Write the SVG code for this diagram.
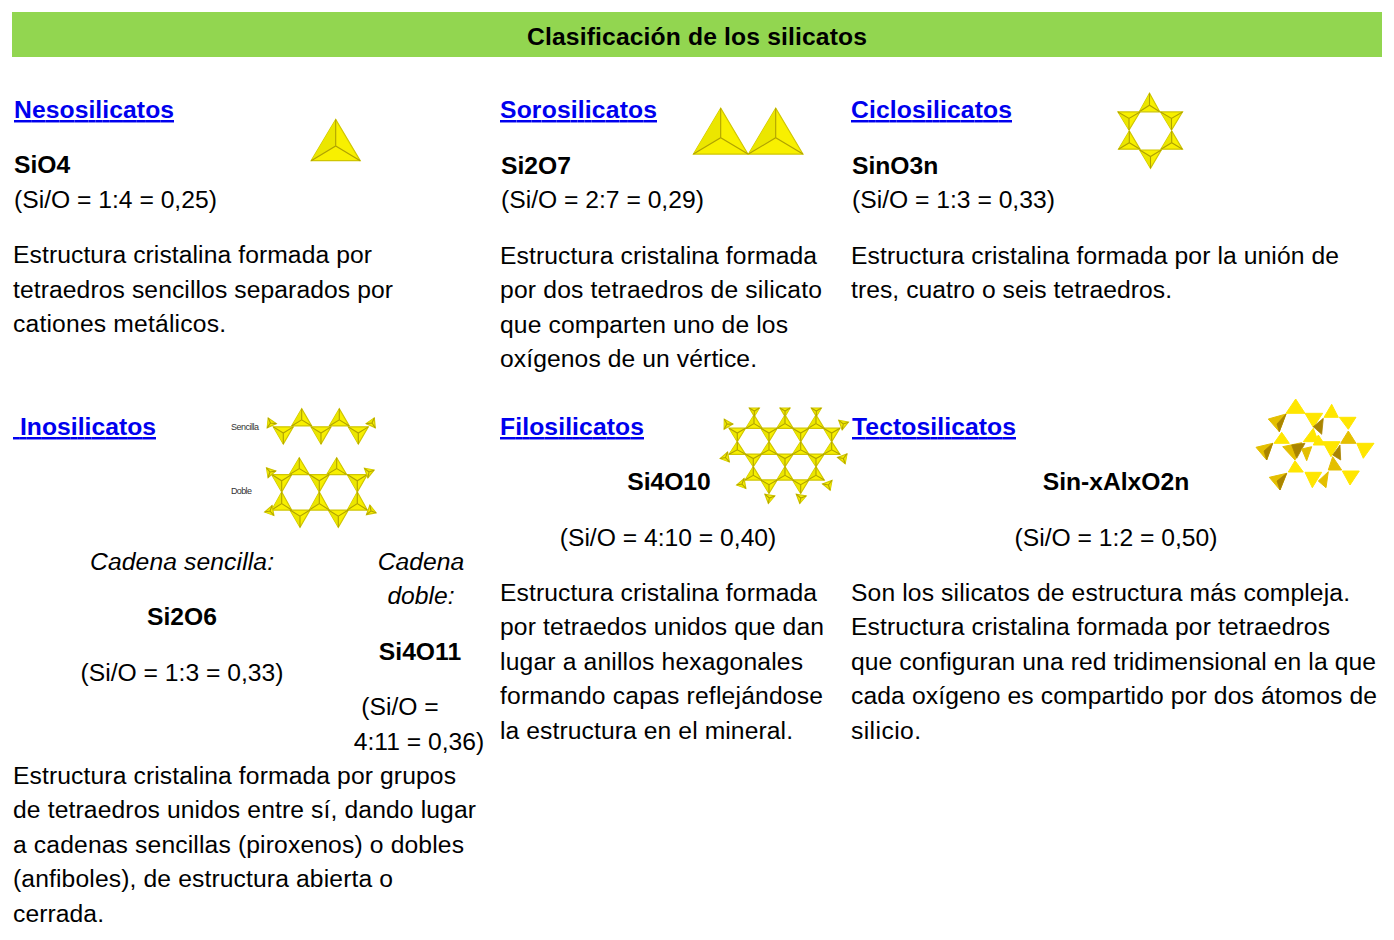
<svg xmlns="http://www.w3.org/2000/svg" xmlns:xlink="http://www.w3.org/1999/xlink" width="1394" height="940" viewBox="0 0 1394 940">
<style>
text{font-family:"Liberation Sans",Arial,sans-serif;font-size:24.67px;fill:#000}
.b{font-weight:700}
.h{font-weight:700;fill:#0000ee;text-decoration:underline}
.c{text-anchor:middle}
.i{font-style:italic}
.s{font-size:9px;fill:#333}
.t polygon,.t path{vector-effect:non-scaling-stroke}
.img{filter:url(#soft)}
.y{fill:#ffe600;stroke:#ffe600;stroke-width:1;stroke-linejoin:round}
.k{fill:#a98400;stroke:#a98400;stroke-width:.8;stroke-linejoin:round}
.m{fill:#e4bf00;stroke:#e4bf00;stroke-width:1;stroke-linejoin:round}
</style>
<defs>
<filter id="soft" x="-5%" y="-5%" width="110%" height="110%"><feGaussianBlur stdDeviation=".3"/></filter>
<g id="u" class="t">
<polygon points="0,-27 -25,15 25,15" fill="#f8f000" stroke="#d0c600" stroke-width="1.2"/>
<polygon points="0,-27 -25,15 0,0" fill="#ebe600"/>
<path d="M0,-27V0M-25,15L0,0L25,15" fill="none" stroke="#b0a200" stroke-width="1.1"/>
</g>
</defs>
<rect width="1394" height="940" fill="#fff"/>
<g id="title">
<rect x="12" y="12" width="1370" height="45" fill="#92d650"/>
<text class="b" x="527" y="45" textLength="340">Clasificación de los silicatos</text>
</g>
<g id="nesosilicatos">
<text class="h" x="14" y="118" textLength="160">Nesosilicatos</text>
<g class="img"><use href="#u" transform="translate(335.7,146) scale(.98)"/></g>
<text class="b" x="14" y="173">SiO4</text>
<text x="14" y="208">(Si/O = 1:4 = 0,25)</text>
<text x="13" y="263" textLength="359">Estructura cristalina formada por</text>
<text x="13" y="298" textLength="380">tetraedros sencillos separados por</text>
<text x="13" y="332" textLength="213">cationes metálicos.</text>
</g>
<g id="sorosilicatos">
<text class="h" x="500" y="118" textLength="157">Sorosilicatos</text>
<g class="img">
<use href="#u" transform="translate(720.7,137.7) scale(1.09)"/>
<use href="#u" transform="translate(775.7,137.7) scale(1.09)"/>
</g>
<text class="b" x="501" y="174">Si2O7</text>
<text x="501" y="208">(Si/O = 2:7 = 0,29)</text>
<text x="500" y="264" textLength="317">Estructura cristalina formada</text>
<text x="500" y="298" textLength="322">por dos tetraedros de silicato</text>
<text x="500" y="333" textLength="288">que comparten uno de los</text>
<text x="500" y="367" textLength="257">oxígenos de un vértice.</text>
</g>
<g id="ciclosilicatos">
<text class="h" x="851" y="118" textLength="161">Ciclosilicatos</text>
<g class="img">
<use href="#u" transform="translate(1149.5,105.2) scale(.41,.44)"/>
<use href="#u" transform="translate(1129,118.4) scale(.44,-.43)"/>
<use href="#u" transform="translate(1171.5,118.4) scale(.44,-.43)"/>
<use href="#u" transform="translate(1129.3,142.7) scale(.43,.435)"/>
<use href="#u" transform="translate(1171.7,142.7) scale(.43,.435)"/>
<use href="#u" transform="translate(1150.5,156.5) scale(.43,-.435)"/>
</g>
<text class="b" x="852" y="174">SinO3n</text>
<text x="852" y="208">(Si/O = 1:3 = 0,33)</text>
<text x="851" y="264" textLength="488">Estructura cristalina formada por la unión de</text>
<text x="851" y="298" textLength="321">tres, cuatro o seis tetraedros.</text>
</g>
<g id="inosilicatos">
<text class="h" x="13" y="435" textLength="143">&#160;Inosilicatos</text>
<text class="s" x="231" y="430" textLength="28">Sencilla</text>
<text class="s" x="231" y="494" textLength="21">Doble</text>
<g class="img">
<use href="#u" transform="translate(301.7,419.8) scale(.4,.41)"/>
<use href="#u" transform="translate(339.3,419.8) scale(.4,.41)"/>
<use href="#u" transform="translate(283.3,433) scale(.4,-.41)"/>
<use href="#u" transform="translate(321,433) scale(.4,-.41)"/>
<use href="#u" transform="translate(358.3,433) scale(.4,-.41)"/>
<use href="#u" transform="translate(270.5,423) rotate(-25) scale(.2)"/>
<use href="#u" transform="translate(372,423) rotate(25) scale(.2)"/>
<use href="#u" transform="translate(299.3,468.6) scale(.4)"/>
<use href="#u" transform="translate(336.7,468.6) scale(.4)"/>
<use href="#u" transform="translate(281.7,480.8) scale(.4,-.415)"/>
<use href="#u" transform="translate(319.3,480.8) scale(.4,-.415)"/>
<use href="#u" transform="translate(357.3,480.8) scale(.4,-.415)"/>
<use href="#u" transform="translate(281.7,503.6) scale(.4,.43)"/>
<use href="#u" transform="translate(319.3,503.6) scale(.4,.43)"/>
<use href="#u" transform="translate(357.3,503.6) scale(.4,.43)"/>
<use href="#u" transform="translate(300,516.2) scale(.4,-.41)"/>
<use href="#u" transform="translate(338.3,516.2) scale(.4,-.41)"/>
<use href="#u" transform="translate(270,472) rotate(-40) scale(.2)"/>
<use href="#u" transform="translate(369,472) rotate(70) scale(.2)"/>
<use href="#u" transform="translate(270,511) rotate(-100) scale(.2)"/>
<use href="#u" transform="translate(371,511) rotate(110) scale(.2)"/>
</g>
<text class="i" x="90" y="570" textLength="184">Cadena sencilla:</text>
<text class="b c" x="182" y="625">Si2O6</text>
<text class="c" x="182" y="681">(Si/O = 1:3 = 0,33)</text>
<text class="i c" x="421" y="570">Cadena</text>
<text class="i c" x="421" y="604">doble:</text>
<text class="b c" x="420" y="660">Si4O11</text>
<text class="c" x="400" y="715">(Si/O =</text>
<text class="c" x="419" y="750">4:11 = 0,36)</text>
<text x="13" y="784" textLength="443">Estructura cristalina formada por grupos</text>
<text x="13" y="818" textLength="463">de tetraedros unidos entre sí, dando lugar</text>
<text x="13" y="853" textLength="451">a cadenas sencillas (piroxenos) o dobles</text>
<text x="13" y="887" textLength="380">(anfiboles), de estructura abierta o</text>
<text x="13" y="922" textLength="91">cerrada.</text>
</g>
<g id="filosilicatos">
<text class="h" x="500" y="435" textLength="144">Filosilicatos</text>
<g class="img">
<use href="#u" transform="translate(754,423.6) scale(.33,.32)"/>
<use href="#u" transform="translate(785,423.6) scale(.33,.32)"/>
<use href="#u" transform="translate(816,423.6) scale(.33,.32)"/>
<use href="#u" transform="translate(737.3,433) scale(.33,-.32)"/>
<use href="#u" transform="translate(769,433) scale(.33,-.32)"/>
<use href="#u" transform="translate(800.7,433) scale(.33,-.32)"/>
<use href="#u" transform="translate(831.7,433) scale(.33,-.32)"/>
<use href="#u" transform="translate(737.3,449.8) scale(.33,.3)"/>
<use href="#u" transform="translate(769,449.8) scale(.33,.3)"/>
<use href="#u" transform="translate(800.7,449.8) scale(.33,.3)"/>
<use href="#u" transform="translate(831.7,449.8) scale(.33,.3)"/>
<use href="#u" transform="translate(753.3,458.6) scale(.33,-.3)"/>
<use href="#u" transform="translate(785,458.6) scale(.33,-.3)"/>
<use href="#u" transform="translate(816,458.6) scale(.33,-.3)"/>
<use href="#u" transform="translate(753.3,475.3) scale(.33,.32)"/>
<use href="#u" transform="translate(785,475.3) scale(.33,.32)"/>
<use href="#u" transform="translate(816,475.3) scale(.33,.32)"/>
<use href="#u" transform="translate(769,484.7) scale(.33,-.32)"/>
<use href="#u" transform="translate(800.7,484.7) scale(.33,-.32)"/>
<use href="#u" transform="translate(754.3,411) rotate(180) scale(.2)"/>
<use href="#u" transform="translate(785,411) rotate(180) scale(.2)"/>
<use href="#u" transform="translate(816.3,411) rotate(180) scale(.2)"/>
<use href="#u" transform="translate(727,424) rotate(-30) scale(.2)"/>
<use href="#u" transform="translate(843.3,424) rotate(70) scale(.2)"/>
<use href="#u" transform="translate(725.5,457.5) rotate(-100) scale(.2)"/>
<use href="#u" transform="translate(843.3,458.5) rotate(160) scale(.2)"/>
<use href="#u" transform="translate(742,484) rotate(-100) scale(.2)"/>
<use href="#u" transform="translate(828.3,485) rotate(160) scale(.2)"/>
<use href="#u" transform="translate(769.3,498) rotate(190) scale(.2)"/>
<use href="#u" transform="translate(800.7,498) rotate(190) scale(.2)"/>
</g>
<text class="b c" x="669" y="490">Si4O10</text>
<text class="c" x="668" y="546">(Si/O = 4:10 = 0,40)</text>
<text x="500" y="601" textLength="317">Estructura cristalina formada</text>
<text x="500" y="635" textLength="324">por tetraedos unidos que dan</text>
<text x="500" y="670" textLength="303">lugar a anillos hexagonales</text>
<text x="500" y="704" textLength="323">formando capas reflejándose</text>
<text x="500" y="739" textLength="293">la estructura en el mineral.</text>
</g>
<g id="tectosilicatos">
<text class="h" x="852" y="435" textLength="164">Tectosilicatos</text>
<g class="img">
<polygon class="y" points="1295.7,399 1286,413.3 1305,413.3"/>
<polygon class="y" points="1305,413.3 1322.7,413.3 1313.3,427.3"/>
<polygon class="y" points="1331.7,404.3 1324,417.3 1338.3,417.3"/>
<polygon class="y" points="1339.3,417.3 1356,417.3 1348.3,429.3"/>
<polygon class="y" points="1281.7,432.3 1274,443.3 1289.3,443.3"/>
<polygon class="y" points="1313.3,428.3 1303.3,441.7 1318.3,441.7"/>
<polygon class="y" points="1318.3,435 1313.3,445 1325,445"/>
<polygon class="y" points="1322.7,441.7 1340,441.7 1331,456.7"/>
<polygon class="m" points="1348.3,431 1340.7,443.3 1356,443.3"/>
<polygon class="y" points="1356.7,443.3 1374,443.3 1363.3,458.3"/>
<polygon class="y" points="1295,460.7 1288.3,472 1303.3,472"/>
<polygon class="m" points="1332.7,456.7 1328.3,470 1341.7,470"/>
<polygon class="y" points="1305,472.3 1321.7,472.3 1312.3,487.7"/>
<polygon class="y" points="1342.3,471 1359.3,471 1350,485"/>
<polygon class="m" points="1268.3,419 1286,414 1279.3,431.7"/>
<polygon class="k" points="1286,414 1279.3,431.7 1277,424"/>
<polygon class="m" points="1256,447.3 1272.7,443.3 1266.7,460"/>
<polygon class="k" points="1272.7,443.3 1266.7,460 1264,451"/>
<polygon class="k" points="1323.3,418.3 1313.3,426.7 1321.7,434.3"/>
<polygon class="m" points="1282.7,446.7 1301.7,442.7 1295,460"/>
<polygon class="k" points="1305,443.3 1291.7,445 1296.7,458.3"/>
<polygon class="m" points="1311.7,446.7 1301.7,449 1306.7,460.7"/>
<polygon class="k" points="1340,445 1332.7,455 1340.7,460"/>
<polygon class="m" points="1269.3,477.3 1286.7,473.3 1280,490"/>
<polygon class="k" points="1286.7,473.3 1280,490 1277,481"/>
<polygon class="m" points="1328.3,471.7 1318.3,481 1326,487.7"/>
</g>
<text class="b c" x="1116" y="490">Sin-xAlxO2n</text>
<text class="c" x="1116" y="546">(Si/O = 1:2 = 0,50)</text>
<text x="851" y="601" textLength="499">Son los silicatos de estructura más compleja.</text>
<text x="851" y="635" textLength="479">Estructura cristalina formada por tetraedros</text>
<text x="851" y="670" textLength="525">que configuran una red tridimensional en la que</text>
<text x="851" y="704" textLength="526">cada oxígeno es compartido por dos átomos de</text>
<text x="851" y="739" textLength="70">silicio.</text>
</g>
</svg>
